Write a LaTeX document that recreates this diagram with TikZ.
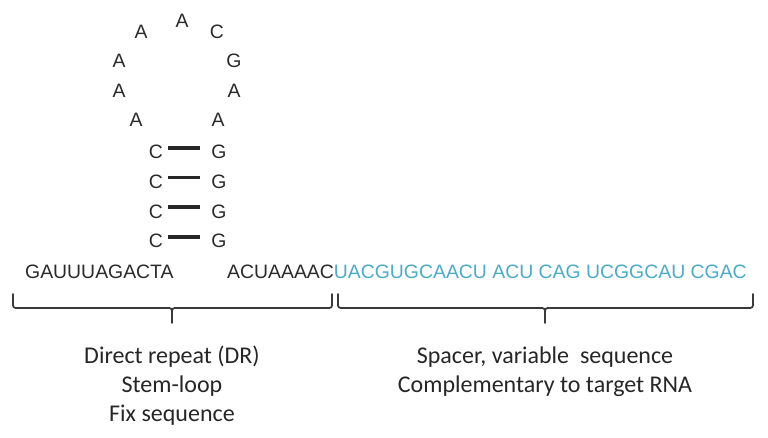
\documentclass[tikz,border=0pt]{standalone}
\usepackage{fontspec}
\setmainfont{Liberation Sans}
\newfontfamily\calibrifont{Carlito}
\definecolor{seqgray}{HTML}{2A2A2A}
\definecolor{spacercol}{HTML}{4BACC6}
\definecolor{bracecol}{HTML}{3A3A3A}
\begin{document}
\begin{tikzpicture}[x=1pt,y=-1pt,
  nt/.style={inner sep=0pt,anchor=base,text=seqgray,font=\fontsize{19.4}{23}\selectfont},
  seq/.style={inner sep=0pt,anchor=base west,text=seqgray,font=\fontsize{19.4}{23}\selectfont},
  bond/.style={line width=3.6pt,draw=black!85},
  bracepath/.style={line width=1.8pt,draw=bracecol,line cap=round,line join=round},
  lbl/.style={inner sep=0pt,anchor=base,text=black!85,font=\calibrifont\fontsize{24}{29}\selectfont}]
\useasboundingbox (0,0) rectangle (768,438);
% loop
\node[nt] (l0) at (182,27.5) {A};
\node[nt] (l1) at (141,39) {A};
\node[nt] (r1) at (217,39) {C};
\node[nt] (l2) at (119,68) {A};
\node[nt] (r2) at (234,68) {G};
\node[nt] (l3) at (119,98) {A};
\node[nt] (r3) at (234,98) {A};
\node[nt] (l4) at (136,127) {A};
\node[nt] (r4) at (218,127) {A};
% stem
\foreach \i/\yy in {1/159,2/188.7,3/218.3,4/248}{
  \node[nt] (c\i) at (156,\yy) {C};
  \node[nt] (g\i) at (219,\yy) {G};
  \draw[bond] ([shift={(5pt,11pt)}]c\i.base east) -- ([shift={(-11pt,11pt)}]g\i.base west);
}
% sequences
\node[seq] (dr5) at (25,279) {GAUUUAGACTA};
\node[seq] (dr3) at (227,279) {ACUAAAAC\textcolor{spacercol}{UACGUGCAACU ACU CAG UCGGCAU CGAC}};
% braces
\draw[bracepath] (13,294) -- (13,302) .. controls (13,308) .. (19,308) -- (166,308) .. controls (172,308) .. (172,314) -- (172,323);
\draw[bracepath] (332,294) -- (332,302) .. controls (332,308) .. (326,308) -- (178,308) .. controls (172,308) .. (172,314);
\draw[bracepath] (338,294) -- (338,302) .. controls (338,308) .. (344,308) -- (539,308) .. controls (545,308) .. (545,314) -- (545,323);
\draw[bracepath] (753,294) -- (753,302) .. controls (753,308) .. (747,308) -- (551,308) .. controls (545,308) .. (545,314);
% labels
\node[lbl] (t1) at (172,363) {Direct repeat (DR)};
\node[lbl] (t2) at (172,392) {Stem-loop};
\node[lbl] (t3) at (172,421) {Fix sequence};
\node[lbl] (t4) at (545,363) {Spacer, variable\ \ sequence};
\node[lbl] (t5) at (545,392) {Complementary to target RNA};
\end{tikzpicture}
\end{document}
